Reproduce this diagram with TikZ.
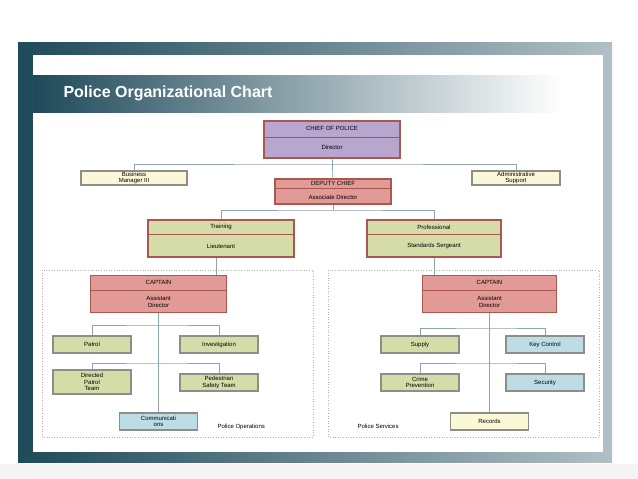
\documentclass[tikz,border=0pt]{standalone}
\usepackage{fontspec}
\setmainfont{Liberation Sans}
\usetikzlibrary{positioning}
\definecolor{teal1}{HTML}{1E4A5A}
\definecolor{teal2}{HTML}{DDE6EA}
\definecolor{purp}{HTML}{B8A6CE}
\definecolor{salm}{HTML}{E29A96}
\definecolor{grn}{HTML}{D4DDA8}
\definecolor{blu}{HTML}{BCDCE6}
\definecolor{yel}{HTML}{FBF8D8}
\definecolor{rim}{HTML}{A9574F}
\definecolor{gry}{HTML}{8E8E86}
\definecolor{wire}{HTML}{8FA4B2}
\tikzset{
  head/.style={draw=rim, line width=1.6pt, minimum width=#1, minimum height=37pt, inner sep=0pt},
  unit/.style={draw=gry, line width=1.8pt, minimum width=78pt, minimum height=17pt, inner sep=1pt, align=center, font=\fontsize{6}{6.6}\selectfont},
  txt/.style={font=\fontsize{6}{6.6}\selectfont, align=center},
  wire/.style={draw=wire, line width=0.7pt},
  zone/.style={draw=gray!60, dotted, line width=0.6pt}
}
\begin{document}
\begin{tikzpicture}[x=1pt, y=-1pt]
\useasboundingbox (0,0) rectangle (638,479);
% frame and title band
\shade[left color=teal1, right color=teal1!35!white] (18,42) rectangle (612,462);
\fill[white] (33,55) rectangle (603,452);
\shade[left color=teal1, right color=white] (33,75) rectangle (563,112);
\node[anchor=west, text=white, font=\fontsize{16}{18}\selectfont\bfseries] (title) at (60,93) {Police Organizational Chart};
\fill[gray!8] (0,464) rectangle (638,479);

% group areas
\draw[zone] (42,270) rectangle (313,437);
\draw[zone] (328,270) rectangle (599,437);
\node[txt, anchor=west] (ops) at (214,427) {Police Operations};
\node[txt, anchor=west] (srv) at (354,426) {Police Services};

% upper levels
\node[head=136pt, fill=purp] (chief) at (332,139.5) {};
\draw[rim, line width=0.6pt] (chief.west |- 0,137) -- (chief.east |- 0,137);
\node[txt] (chiefa) at (332,128) {CHIEF OF POLICE};
\node[txt] (chiefb) at (332,147) {Director};

\node[unit, fill=yel, minimum width=106pt, minimum height=13pt] (busi) at (134,178) {Business\\Manager III};
\node[unit, fill=yel, minimum width=88pt, minimum height=13pt] (admin) at (516,178) {Administrative\\Support};

\node[head=116pt, fill=salm, minimum height=25pt] (deputy) at (333,191.5) {};
\draw[rim, line width=0.6pt] (deputy.west |- 0,188.5) -- (deputy.east |- 0,188.5);
\node[txt] (deputya) at (333,183) {DEPUTY CHIEF};
\node[txt] (deputyb) at (333,197) {Associate Director};

\node[head=146pt, fill=grn] (train) at (221,238.5) {};
\draw[rim, line width=0.6pt] (train.west |- 0,234) -- (train.east |- 0,234);
\node[txt] (traina) at (221,227) {Training};
\node[txt] (trainb) at (221,246) {Lieutenant};

\node[head=134pt, fill=grn] (prof) at (434,238.5) {};
\draw[rim, line width=0.6pt] (prof.west |- 0,234) -- (prof.east |- 0,234);
\node[txt] (profa) at (434,227) {Professional};
\node[txt] (profb) at (434,246) {Standards Sergeant};

% captains
\node[head=136pt, fill=salm] (capl) at (158.5,294) {};
\draw[rim, line width=0.6pt] (capl.west |- 0,290) -- (capl.east |- 0,290);
\node[txt] (capla) at (158.5,282) {CAPTAIN};
\node[txt] (caplb) at (158.5,302) {Assistant\\Director};

\node[head=134pt, fill=salm] (capr) at (489.5,294) {};
\draw[rim, line width=0.6pt] (capr.west |- 0,290) -- (capr.east |- 0,290);
\node[txt] (capra) at (489.5,282) {CAPTAIN};
\node[txt] (caprb) at (489.5,302) {Assistant\\Director};

% units
\node[unit, fill=grn] (patrol) at (92,344.5) {Patrol};
\node[unit, fill=grn] (invest) at (219,344.5) {Investigation};
\node[unit, fill=grn, minimum height=24pt] (direct) at (92,382) {Directed\\Patrol\\Team};
\node[unit, fill=grn] (pedest) at (219,382.5) {Pedestrian\\Safety Team};
\node[unit, fill=blu] (comm) at (158.5,421.5) {Communicati\\ons};
\node[unit, fill=grn] (supply) at (420,344.5) {Supply};
\node[unit, fill=blu] (keyc) at (545,344.5) {Key Control};
\node[unit, fill=grn] (crime) at (420,382.5) {Crime\\Prevention};
\node[unit, fill=blu] (secur) at (545,382.5) {Security};
\node[unit, fill=yel] (records) at (489.5,421.5) {Records};

% connectors
\coordinate (top) at (332,164);
\coordinate (mid) at (333,210);
\coordinate (ol) at (158.5,325);
\coordinate (ol2) at (158.5,363);
\coordinate (sr) at (489.5,328);
\coordinate (sr2) at (489.5,363);
\draw[wire] (chief) -- (deputy);
\draw[wire] (busi.north) |- (top) -| (admin.north);
\draw[wire] (train.north) |- (mid) -| (prof.north);
\draw[wire] (deputy) -- (mid);
\draw[wire] (train.south -| 216,0) -- (capl.north -| 216,0);
\draw[wire] (prof.south) -- (capr.north -| prof.south);
\draw[wire] (capl) -- (comm);
\draw[wire] (patrol.north) |- (ol) -| (invest.north);
\draw[wire] (direct.north) |- (ol2) -| (pedest.north);
\draw[wire] (capr) -- (records);
\draw[wire] (supply.north) |- (sr) -| (keyc.north);
\draw[wire] (crime.north) |- (sr2) -| (secur.north);
\end{tikzpicture}
\end{document}
